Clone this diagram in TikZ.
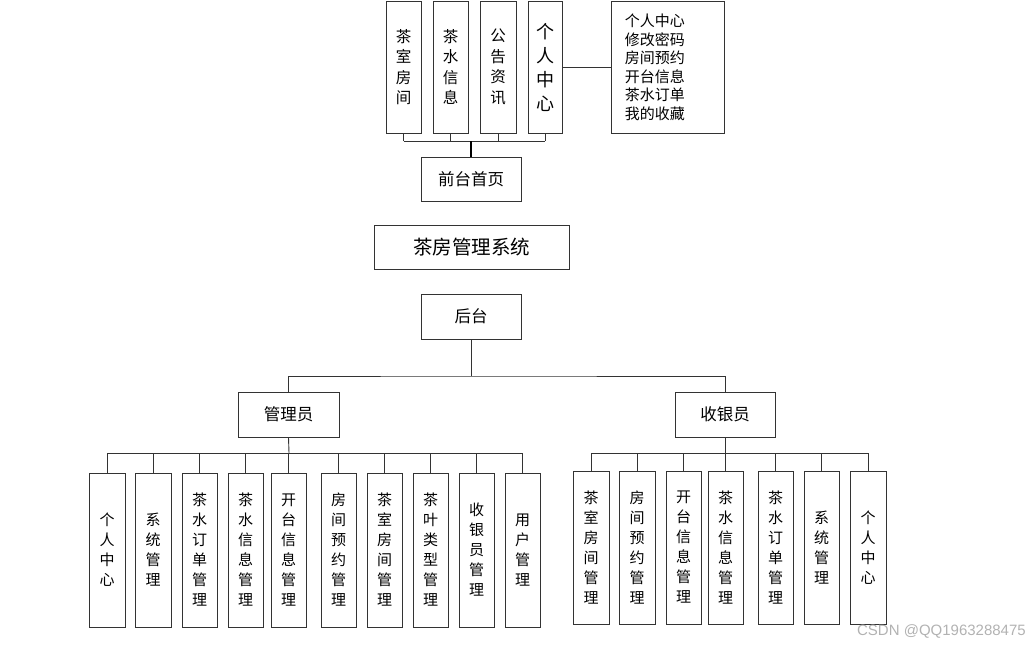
\documentclass[tikz,border=0pt]{standalone}
\usepackage{fontspec}
\newfontfamily\cjk{Noto Sans CJK SC}
\begin{document}
\begin{tikzpicture}[x=1pt,y=-1pt,
  bx/.style={draw=black!80,line width=0.9pt,font=\cjk\fontsize{15}{20}\selectfont,align=center,inner sep=0pt},
  ln/.style={draw=black!80,line width=0.9pt}]
\useasboundingbox (0,0) rectangle (1029,648);
\newcommand{\colbox}[6]{\node[bx,minimum width=#4-#3,minimum height=#6-#5] (#1) at ({(#3+#4)/2},{(#5+#6)/2}) {#2};}
% top
\tikzset{tp/.style={font=\cjk\fontsize{15.5}{20.5}\selectfont}}
\node[bx,tp,minimum width=35,minimum height=132] (t1) at (403.5,67) {茶\\室\\房\\间};
\node[bx,tp,minimum width=35,minimum height=132] (t2) at (450.5,67) {茶\\水\\信\\息};
\node[bx,tp,minimum width=36,minimum height=132] (t3) at (498,67) {公\\告\\资\\讯};
\node[bx,minimum width=34,minimum height=132,font=\cjk\fontsize{18}{24}\selectfont] (t4) at (545,67) {个\\人\\中\\心};
\node[bx,minimum width=113,minimum height=132,align=left,anchor=north west,text width=100,font=\cjk\fontsize{15}{18.5}\selectfont] (tr) at (611,1) {\hspace*{7pt}个人中心\\\hspace*{7pt}修改密码\\\hspace*{7pt}房间预约\\\hspace*{7pt}开台信息\\\hspace*{7pt}茶水订单\\\hspace*{7pt}我的收藏\\[34pt]};
\draw[ln] (t4.east) -- (t4.east -| tr.west);
\node[bx,minimum width=100,minimum height=44,font=\cjk\fontsize{16.5}{20}\selectfont] (qt) at (471,179) {前台首页};
\node[bx,minimum width=195,minimum height=44,font=\cjk\fontsize{19.5}{22}\selectfont] (sys) at (471.5,247) {茶房管理系统};
\node[bx,minimum width=100,minimum height=45,font=\cjk\fontsize{16.5}{20}\selectfont] (ht) at (471,316.5) {后台};
\coordinate (tb) at (471,141);
\foreach \n in {t1,t2,t3,t4}{\draw[ln] (\n.south) -- (\n.south |- tb);}
\draw[ln] (t1.south |- tb) -- (t4.south |- tb);
\draw[ln,line width=1.2pt,black] (tb) -- (qt.north);
% back
\node[bx,minimum width=101,minimum height=45,font=\cjk\fontsize{16.5}{20}\selectfont] (gl) at (288.5,414.5) {管理员};
\node[bx,minimum width=100,minimum height=45,font=\cjk\fontsize{16.5}{20}\selectfont] (sy) at (725,414.5) {收银员};
\coordinate (hb) at (471,376);
\draw[ln] (ht.south) -- (hb);
\draw[ln] (gl.north) |- (hb) -| (sy.north);
% left
\colbox{a1}{个\\人\\中\\心}{89}{125}{473}{627}
\colbox{a2}{系\\统\\管\\理}{135}{171}{473}{627}
\colbox{a3}{茶\\水\\订\\单\\管\\理}{182}{217}{473}{627}
\colbox{a4}{茶\\水\\信\\息\\管\\理}{228}{263}{473}{627}
\colbox{a5}{开\\台\\信\\息\\管\\理}{271}{306}{473}{627}
\colbox{a6}{房\\间\\预\\约\\管\\理}{321}{356}{473}{627}
\colbox{a7}{茶\\室\\房\\间\\管\\理}{367}{402}{473}{627}
\colbox{a8}{茶\\叶\\类\\型\\管\\理}{413}{448}{473}{627}
\colbox{a9}{收\\银\\员\\管\\理}{459}{494}{473}{627}
\colbox{a10}{用\\户\\管\\理}{505}{540}{473}{627}
\coordinate (lb) at (289,453);
\draw[ln] (gl.south) -- (lb);
\draw[ln] (a1.north |- lb) -- (a10.north |- lb);
\foreach \n in {a1,a2,a3,a4,a5,a6,a7,a8,a9,a10}{\draw[ln] (\n.north) -- (\n.north |- lb);}
% right
\colbox{b1}{茶\\室\\房\\间\\管\\理}{573}{609}{471}{624}
\colbox{b2}{房\\间\\预\\约\\管\\理}{619}{655}{471}{624}
\colbox{b3}{开\\台\\信\\息\\管\\理}{666}{701}{471}{624}
\colbox{b4}{茶\\水\\信\\息\\管\\理}{708}{743}{471}{624}
\colbox{b5}{茶\\水\\订\\单\\管\\理}{758}{793}{471}{624}
\colbox{b6}{系\\统\\管\\理}{804}{839}{471}{624}
\colbox{b7}{个\\人\\中\\心}{850}{886}{471}{624}
\coordinate (rb) at (725,453);
\draw[ln] (sy.south) -- (rb);
\draw[ln] (b1.north |- rb) -- (b7.north |- rb);
\foreach \n in {b1,b2,b3,b4,b5,b6,b7}{\draw[ln] (\n.north) -- (\n.north |- rb);}
\node[text=black!30,font=\fontspec{Liberation Sans}\fontsize{15}{15}\selectfont,anchor=east,inner sep=0] (wm) at (1026,631) {CSDN @QQ1963288475};
\end{tikzpicture}
\end{document}
